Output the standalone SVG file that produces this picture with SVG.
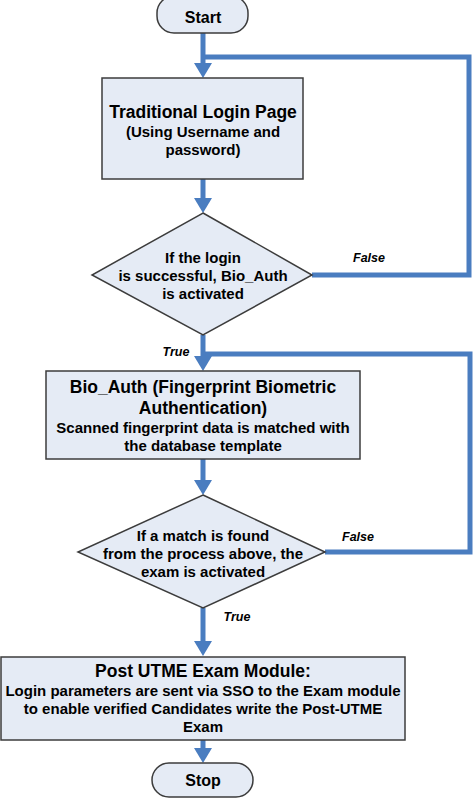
<svg xmlns="http://www.w3.org/2000/svg" width="474" height="812" viewBox="0 0 474 812">
<style>
.node{fill:#e5ebf5;stroke:#3c3c3c;stroke-width:1.5}
.t{font-family:"Liberation Sans",Arial,sans-serif;font-weight:bold;fill:#000;text-anchor:middle}
.big{font-size:17.5px}
.term{font-size:16px}
.sm{font-size:15px}
.lbl{font-family:"Liberation Sans",Arial,sans-serif;font-weight:bold;font-style:italic;font-size:12.5px;fill:#000;text-anchor:middle}
.c{fill:none;stroke:#4a7dc0;stroke-width:5}
</style>
<defs>
<marker id="ah" viewBox="0 0 15 18" refX="0" refY="9" markerWidth="15" markerHeight="18" markerUnits="userSpaceOnUse" orient="auto">
<path d="M0,0 L15,9 L0,18 z" fill="#4a7dc0"/>
</marker>
</defs>
<rect width="474" height="812" fill="#fff"/>
<g id="connectors">
<path class="c" d="M312,275 H469 V57 H203"/>
<path class="c" d="M325,552 H470 V354 H203"/>
<path class="c" d="M203,33 V63" marker-end="url(#ah)"/>
<path class="c" d="M203,179 V198" marker-end="url(#ah)"/>
<path class="c" d="M203,335 V356" marker-end="url(#ah)"/>
<path class="c" d="M203,459 V480" marker-end="url(#ah)"/>
<path class="c" d="M203,608 V641" marker-end="url(#ah)"/>
<path class="c" d="M203,740 V748" marker-end="url(#ah)"/>
<text class="lbl" x="369" y="262">False</text>
<text class="lbl" x="176" y="356">True</text>
<text class="lbl" x="358" y="541">False</text>
<text class="lbl" x="237" y="621">True</text>
</g>
<g id="start">
<rect class="node" x="157" y="-4" width="91" height="37" rx="17"/>
<text class="t term" x="203" y="23">Start</text>
</g>
<g id="login">
<rect class="node" x="102" y="78" width="201" height="101"/>
<text class="t big" x="203" y="118">Traditional Login Page</text>
<text class="t sm" x="203" y="136.5">(Using Username and</text>
<text class="t sm" x="203" y="154.5">password)</text>
</g>
<g id="decision1">
<polygon class="node" points="203,213 312,275 203,335 92,275"/>
<text class="t sm" x="203" y="262.5">If the login</text>
<text class="t sm" x="203" y="280.5">is successful, Bio_Auth</text>
<text class="t sm" x="203" y="298.5">is activated</text>
</g>
<g id="bioauth">
<rect class="node" x="46" y="371" width="314" height="88"/>
<text class="t big" x="203" y="393">Bio_Auth (Fingerprint Biometric</text>
<text class="t big" x="203" y="414">Authentication)</text>
<text class="t sm" x="203" y="432.5">Scanned fingerprint data is matched with</text>
<text class="t sm" x="203" y="450.5">the database template</text>
</g>
<g id="decision2">
<polygon class="node" points="203,495 325,552 203,608 78,552"/>
<text class="t sm" x="203" y="540.5">If a match is found</text>
<text class="t sm" x="203" y="558.5">from the process above, the</text>
<text class="t sm" x="203" y="576.5">exam is activated</text>
</g>
<g id="exam">
<rect class="node" x="1" y="657" width="404" height="83"/>
<text class="t big" x="203" y="677">Post UTME Exam Module:</text>
<text class="t sm" x="203" y="695.5">Login parameters are sent via SSO to the Exam module</text>
<text class="t sm" x="203" y="713.5">to enable verified Candidates write the Post-UTME</text>
<text class="t sm" x="203" y="731.5">Exam</text>
</g>
<g id="stop">
<rect class="node" x="152" y="763" width="101" height="34" rx="17"/>
<text class="t term" x="203" y="786">Stop</text>
</g>
</svg>
